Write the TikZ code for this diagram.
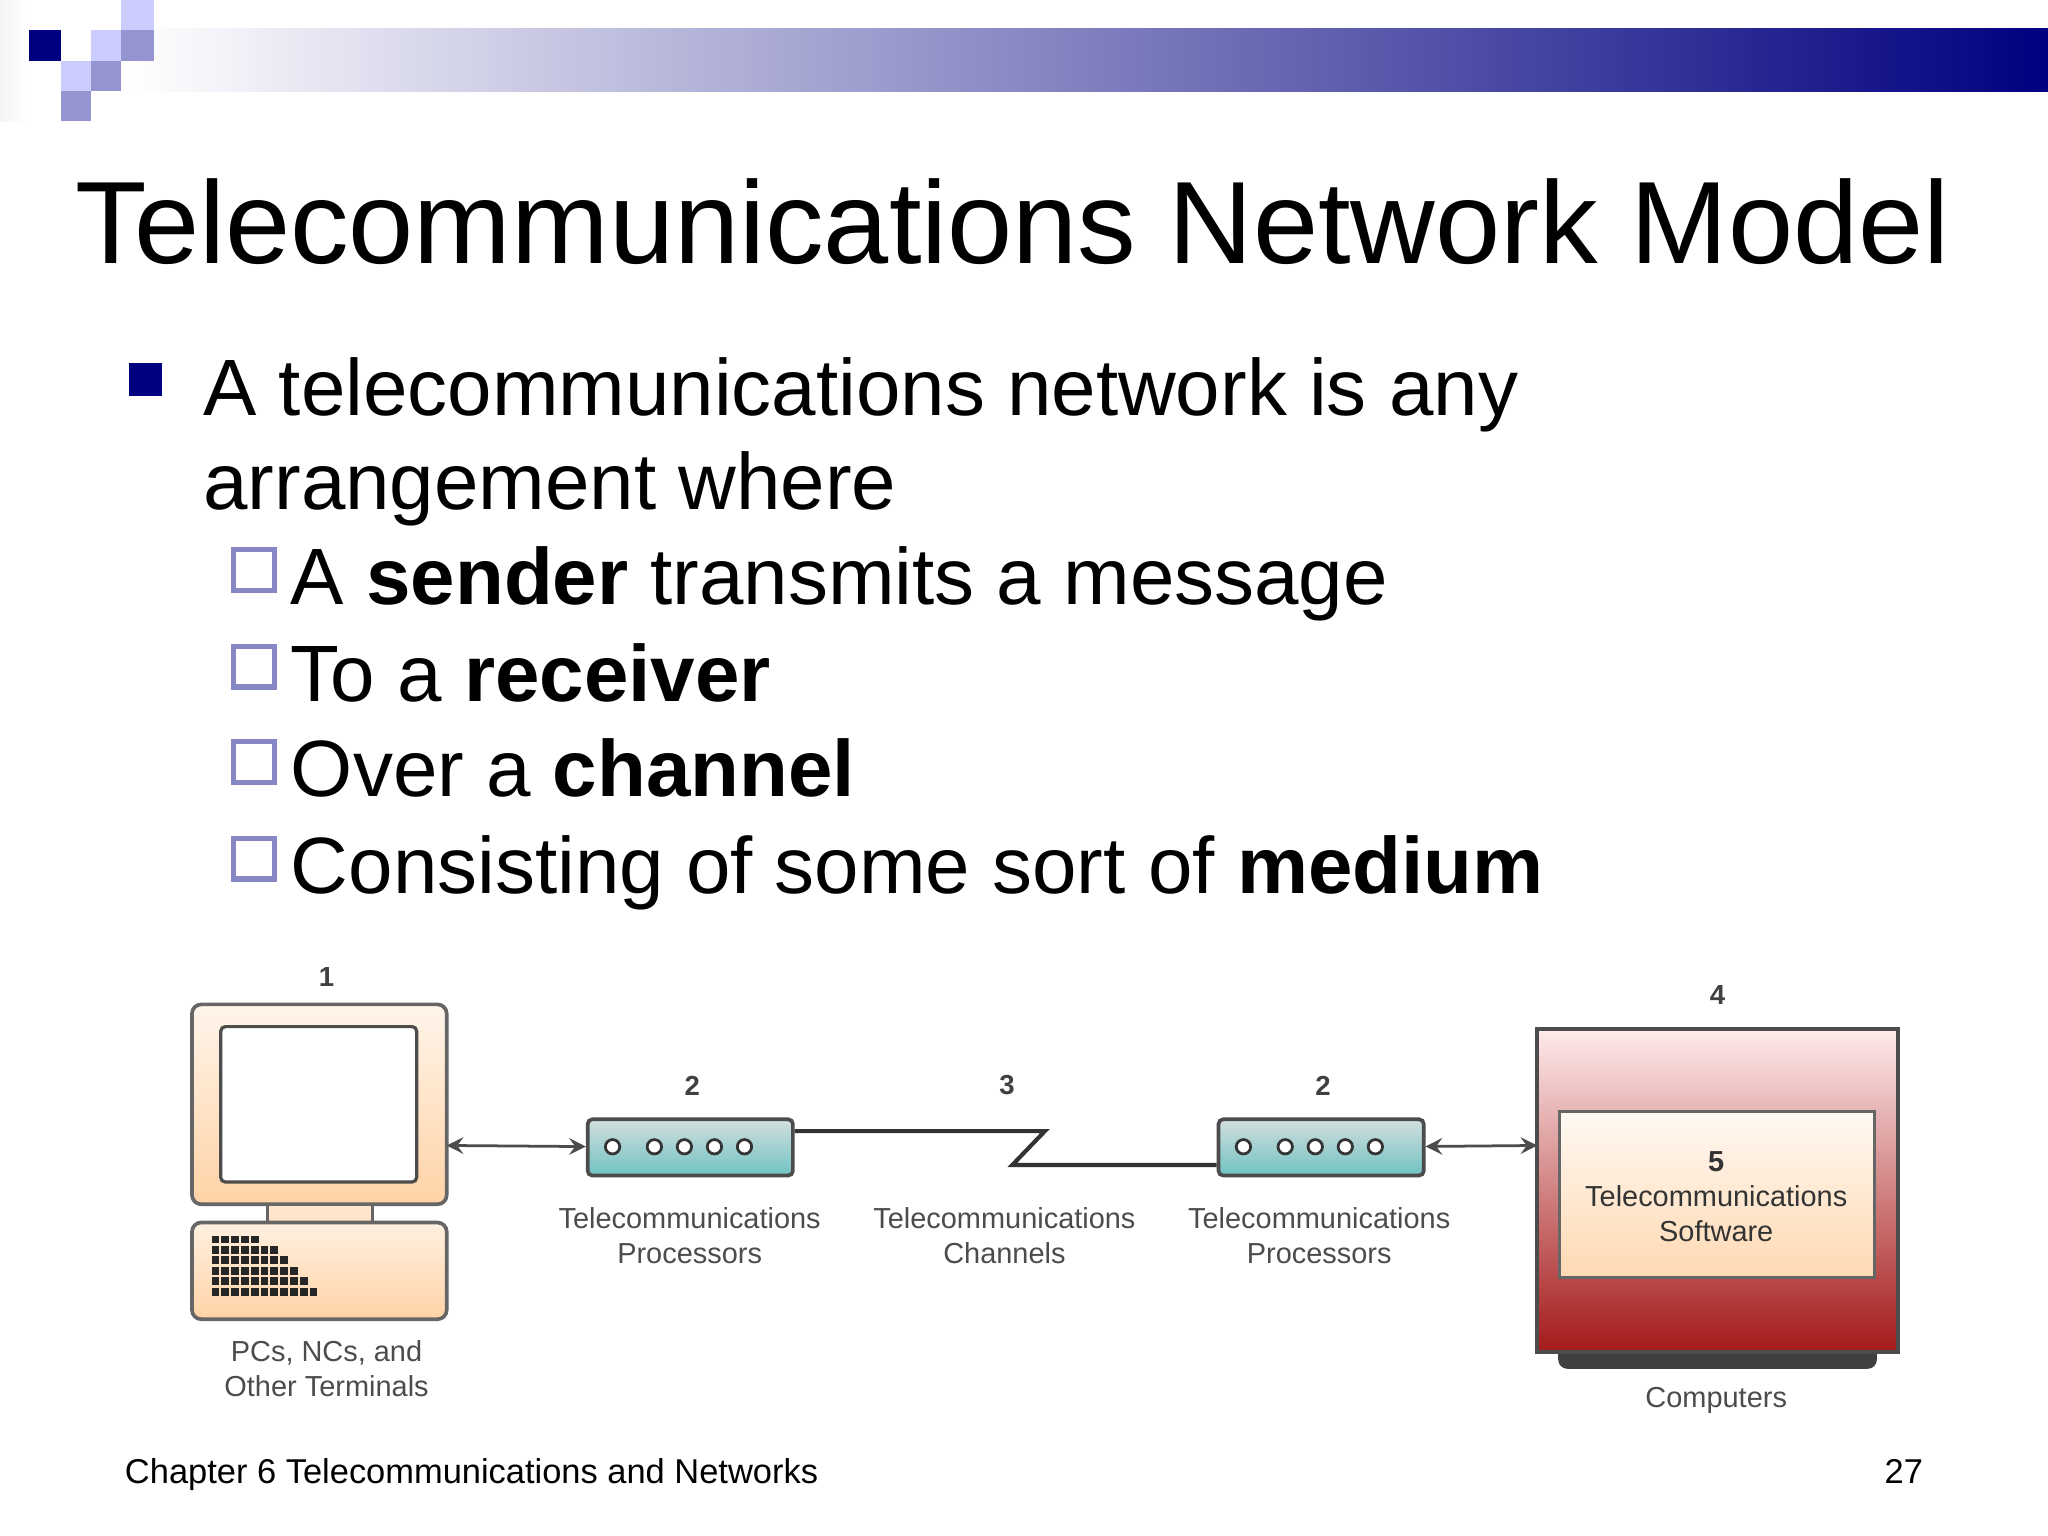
\documentclass[tikz,border=0pt]{standalone}
\usepackage{fontspec}
\setmainfont{Liberation Sans}
\begin{document}
\begin{tikzpicture}[x=0.01cm,y=-0.01cm,
  sq/.style={fill=#1,draw=none},
  lab/.style={font=\fontsize{6.3}{7.6}\selectfont,text=black!70,align=center},
  num/.style={font=\fontsize{6}{7}\selectfont\bfseries,text=black!75},
  sub/.style={anchor=base west,inner sep=0pt,font=\fontsize{17.4}{21}\selectfont},
  chk/.style={draw=blue!35!gray!70,line width=1.1pt},
  proc/.style={draw=black!70,line width=0.8pt,rounded corners=1pt,top color=cyan!15!gray!30,bottom color=cyan!40!gray!80},
  hole/.style={circle,draw=black!80,fill=white,line width=0.6pt,inner sep=0pt,minimum size=0.11cm},
  arr/.style={<->,>=stealth,draw=black!70,line width=0.6pt}]
\useasboundingbox (0,0) rectangle (1568,1176);
\fill[white] (0,0) rectangle (1568,1176);
% header
\shade[left color=white,right color=blue!50!black] (100,22) rectangle (1568,70);
\shade[left color=black!4,right color=white] (0,0) rectangle (22,93);
\fill[sq=blue!50!black] (22,23) rectangle (47,47);
\fill[sq=blue!20] (93,0) rectangle (118,23);
\fill[sq=blue!20] (70,23) rectangle (93,47);
\fill[sq=blue!40!gray!60] (93,23) rectangle (118,47);
\fill[sq=blue!20] (47,47) rectangle (70,70);
\fill[sq=blue!40!gray!60] (70,47) rectangle (93,70);
\fill[sq=blue!40!gray!60] (47,70) rectangle (70,93);
% title
\node[anchor=base west,inner sep=0pt,font=\fontsize{25.5}{30}\selectfont] (title) at (57,202) {Telecommunications Network Model};
\fill[blue!50!black] (99,278) rectangle (124,303);
\node[sub] (b1) at (155,318) {A telecommunications network is any};
\node[sub] (b1b) at (155,390) {arrangement where};
\foreach \y/\t [count=\i] in {463/{A \textbf{sender} transmits a message},537/{To a \textbf{receiver}},610/{Over a \textbf{channel}},684/{Consisting of some sort of \textbf{medium}}}{
  \draw[chk] (179,\y-42) rectangle (210,\y-11);
  \node[sub] (s\i) at (222,\y) {\t};
}
% terminal
\node[num] (n1) at (250,748) {1};
\draw[black!60,line width=0.8pt,rounded corners=2pt,top color=orange!8,bottom color=orange!35] (147,769) rectangle (342,922);
\draw[black!70,line width=0.7pt,fill=white,rounded corners=1pt] (169,786) rectangle (319,905);
\draw[black!60,line width=0.7pt,fill=orange!20] (205,922) rectangle (285,936);
\draw[black!60,line width=0.8pt,rounded corners=2pt,top color=orange!12,bottom color=orange!35] (147,936) rectangle (342,1010);
\foreach \r in {0,...,5}{\foreach \c in {0,...,10}{
  \pgfmathsetmacro\lim{5+\r*1.2}
  \ifdim \c pt<\lim pt \fill[black!85] (162+\c*7.5,946+\r*8) rectangle ++(6,6);\fi}}
\node[lab] (l1) at (250,1048) {PCs, NCs, and\\Other Terminals};
\coordinate (t) at (342,877);
% processors
\node[num] (n2a) at (530,831) {2};
\node[proc,minimum width=1.57cm,minimum height=0.43cm] (p1) at (528.5,878.5) {};
\foreach \x in {469,501,524,547,570} \node[hole] at (\x,878) {};
\node[lab] (l2a) at (528,946) {Telecommunications\\Processors};
\node[num] (n3) at (771,831) {3};
\node[lab] (l3) at (769,946) {Telecommunications\\Channels};
\node[num] (n2b) at (1013,831) {2};
\node[proc,minimum width=1.57cm,minimum height=0.43cm] (p2) at (1011.5,878.5) {};
\foreach \x in {952,984,1007,1030,1053} \node[hole] at (\x,878) {};
\node[lab] (l2b) at (1010,946) {Telecommunications\\Processors};
\draw[black!80,line width=0.9pt] (p1.east|-0,866) -- (800,866) -- (775,892) -- (p2.west|-0,892);
% computer
\node[num] (n4) at (1315,762) {4};
\fill[black!75,rounded corners=2pt] (1193,1030) rectangle (1437,1048);
\draw[black!70,line width=0.8pt,top color=red!8,bottom color=red!60!black!90] (1177,788) rectangle (1453,1035);
\node[draw=black!60,line width=0.6pt,top color=orange!5,bottom color=orange!30,minimum width=2.41cm,minimum height=1.27cm] (sw) at (1314.5,914.5) {};
\node[lab,text=black!80] (l5) at (1314,916) {\textbf{5}\\Telecommunications\\Software};
\node[lab] (l4) at (1314,1072) {Computers};
\coordinate (c) at (1177,877);
\draw[arr] (t) -- (p1);
\draw[arr] (p2) -- (c);
% footer
\node[anchor=base west,inner sep=0pt,font=\fontsize{7.5}{9}\selectfont] (foot) at (95,1136) {Chapter 6 Telecommunications and Networks};
\node[anchor=base east,inner sep=0pt,font=\fontsize{7.5}{9}\selectfont] (pg) at (1473,1136) {27};
\end{tikzpicture}
\end{document}
